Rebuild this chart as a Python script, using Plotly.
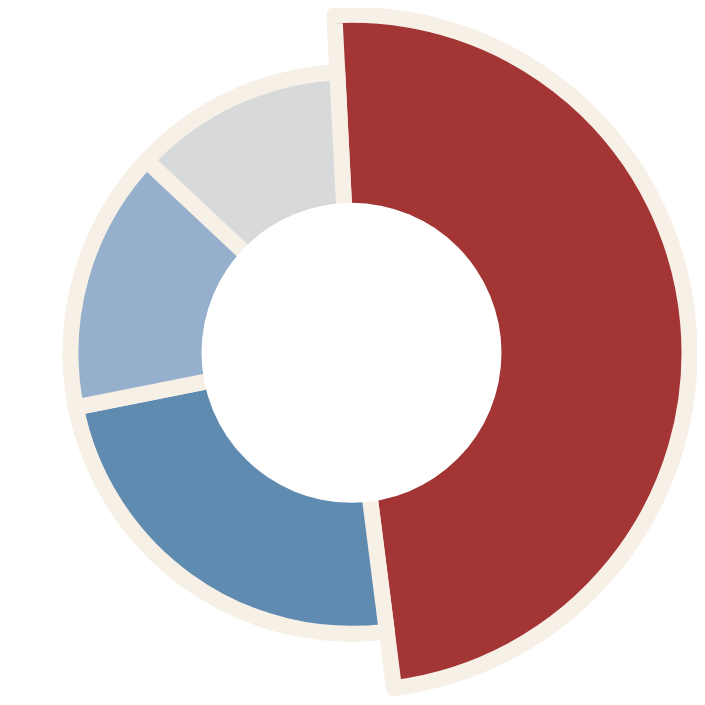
import plotly.graph_objects as go

labels = ['Segment A', 'Segment B', 'Segment C', 'Segment D']
values = [48.8, 23.9, 15.1, 12.2]
colors = ['#A33535', '#5F8BB0', '#96AFCC', '#D7D9DB']
cream = '#F6F0E7'
clear = 'rgba(0,0,0,0)'

# page body adds an 8px offset, so the centre is nudged up-left to compensate
cx, cy = 343.5 / 705, 1 - 344.8 / 705

# first slice sits on a bigger pie, the others on a smaller one (same centre)
lead = [i == 0 for i in range(len(values))]

fig = go.Figure()
for on_big, half in [(True, 338 / 705), (False, 281 / 705)]:
    show = [b == on_big for b in lead]
    fig.add_trace(go.Pie(
        labels=labels, values=values, sort=False, direction='clockwise', rotation=-2.9,
        marker=dict(colors=[c if s else clear for c, s in zip(colors, show)],
                    line=dict(color=[cream if s else clear for s in show],
                              width=[16 if s else 0 for s in show])),
        textinfo='none', hoverinfo='label+percent', showlegend=False,
        domain=dict(x=[cx - half, cx + half], y=[cy - half, cy + half])))

# white hole drawn over the slices so no border shows round it
r = 150 / 705
fig.add_shape(type='circle', xref='paper', yref='paper', layer='above',
              x0=cx - r, x1=cx + r, y0=cy - r, y1=cy + r,
              fillcolor='white', line=dict(width=0))

fig.update_layout(width=705, height=705, margin=dict(l=0, r=0, t=0, b=0),
                  paper_bgcolor='white', plot_bgcolor='white')
fig.write_html('out.html')
